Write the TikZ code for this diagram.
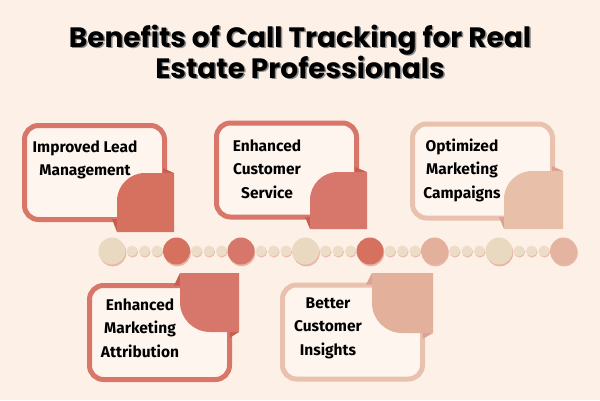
\documentclass[tikz,border=0pt]{standalone}
\usepackage{fontspec}
\setmainfont{Fira Sans}
\newfontfamily\titlefont{Poppins}
\definecolor{bg}{HTML}{FDF0E7}
\definecolor{boxfill}{HTML}{FEF5EF}
\definecolor{redb}{HTML}{D8766A}
\definecolor{redsq}{HTML}{D6715F}
\definecolor{redsqb}{HTML}{D7776B}
\definecolor{redfold}{HTML}{C85E50}
\definecolor{lightb}{HTML}{E9C2AF}
\definecolor{lightsq}{HTML}{E8C0AA}
\definecolor{lightsqb}{HTML}{E3B09C}
\definecolor{lightfold}{HTML}{DDA293}
\definecolor{beige}{HTML}{E9D9C0}
\definecolor{beigesm}{HTML}{EDDDC6}
\definecolor{dotshadow}{HTML}{EBB5A6}
\tikzset{
  card/.style={draw=#1, line width=5pt, fill=boxfill, rounded corners=14pt, minimum width=140pt, minimum height=94pt, inner sep=0pt},
  cardtext/.style={font=\fontsize{15.5}{23.5}\selectfont\bfseries, align=center, text=black},
  titletext/.style={font=\titlefont\fontsize{28}{30}\selectfont\bfseries, anchor=base},
  bigdot/.style={circle, fill=#1, minimum size=27pt, inner sep=0pt},
  smalldot/.style={circle, fill=beigesm, minimum size=11pt, inner sep=0pt},
}
\begin{document}
\begin{tikzpicture}[x=1pt,y=-1pt]
\fill[bg] (0,0) rectangle (600,400);
\useasboundingbox (0,0) rectangle (600,400);
% title
\node[titletext, text=black!45] at (301.5,48.5) {Benefits of Call Tracking for Real};
\node[titletext, text=black!45] at (301.5,79.5) {Estate Professionals};
\node[titletext] (t1) at (300,47) {Benefits of Call Tracking for Real};
\node[titletext] (t2) at (300,78) {Estate Professionals};

% ---------- top cards ----------
% card 1
\node[card=redb] (c1) at (94.5,172.5) {};
\fill[redfold] (163,168) -- (174,173) -- (163,173) -- cycle;
\fill[redfold] (112,219) -- (117,219) -- (117,232) -- cycle;
\fill[redsq] (117,232) [rounded corners=28pt]-- (117,173) [sharp corners]-- (174,173) -- (174,232) -- cycle;
\node[cardtext] (l1) at (85,160) {Improved Lead\\Management};
% card 2
\node[card=redb] (c2) at (286.5,170) {};
\fill[redfold] (355,167) -- (367,172) -- (355,172) -- cycle;
\fill[redfold] (305,217) -- (310,217) -- (310,229) -- cycle;
\fill[redsqb] (310,229) [rounded corners=28pt]-- (310,172) [sharp corners]-- (367,172) -- (367,229) -- cycle;
\node[cardtext] (l2) at (267,169) {Enhanced\\Customer\\Service};
% card 3
\node[card=lightb] (c3) at (482.5,171) {};
\fill[lightfold] (552,166) -- (563,171) -- (552,171) -- cycle;
\fill[lightfold] (499,217) -- (504,217) -- (504,229) -- cycle;
\fill[lightsq] (504,229) [rounded corners=28pt]-- (504,171) [sharp corners]-- (563,171) -- (563,229) -- cycle;
\node[cardtext] (l3) at (462,170) {Optimized\\Marketing\\Campaigns};

% ---------- bottom cards ----------
% card 4
\node[card=redb] (c4) at (159.5,332.5) {};
\fill[redfold] (174,285.5) -- (180,273) -- (180,285.5) -- cycle;
\fill[redfold] (229.5,332) -- (239,332) -- (229.5,338) -- cycle;
\fill[redsqb] (180,273) -- (239,273) -- (239,332) [rounded corners=30pt]-- (180,332) [sharp corners]-- cycle;
\node[cardtext] (l4) at (140,328) {Enhanced\\Marketing\\Attribution};
% card 5
\node[card=lightb] (c5) at (352.5,332) {};
\fill[lightfold] (366,284.5) -- (372,273) -- (372,284.5) -- cycle;
\fill[lightfold] (422.5,333) -- (433,333) -- (422.5,339) -- cycle;
\fill[lightsqb] (372,273) -- (433,273) -- (433,333) [rounded corners=30pt]-- (372,333) [sharp corners]-- cycle;
\node[cardtext] (l5) at (328,328) {Better\\Customer\\Insights};

% ---------- dot row ----------
\foreach \x in {112,176.5,241,305.5,370,434.5,499,563.5}{
  \fill[dotshadow] (\x+0.8,252.8) circle (13.5pt);
}
\foreach \x in {112,176.5,241,305.5,370,434.5,499}{
  \foreach \d in {20,32.5,45}{
    \fill[dotshadow] (\x+\d+0.5,252) circle (5.5pt);
    \node[smalldot] at (\x+\d,251) {};
  }
}
\node[bigdot=beige] (d1) at (112,251) {};
\node[bigdot=redsq] (d2) at (176.5,251) {};
\node[bigdot=redsqb] (d3) at (241,251) {};
\node[bigdot=beige] (d4) at (305.5,251) {};
\node[bigdot=redsq] (d5) at (370,251) {};
\node[bigdot=lightsqb] (d6) at (434.5,251) {};
\node[bigdot=beige] (d7) at (499,251) {};
\node[bigdot=lightsqb!90!beige] (d8) at (563.5,251) {};
\end{tikzpicture}
\end{document}
